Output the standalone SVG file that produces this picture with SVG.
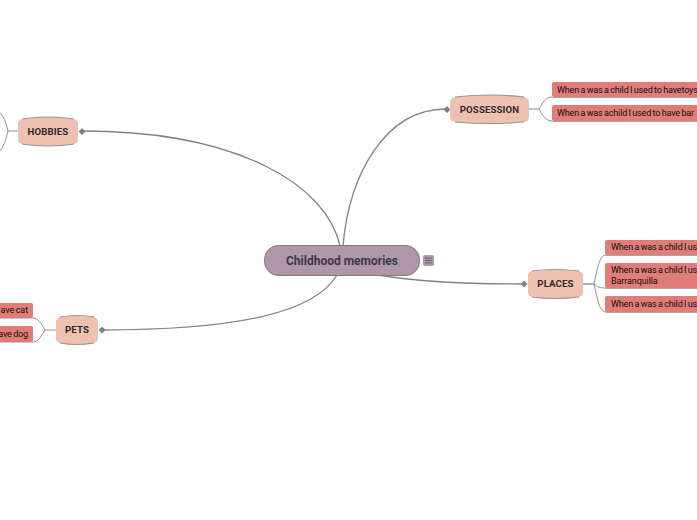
<svg xmlns="http://www.w3.org/2000/svg" width="697" height="520" viewBox="0 0 697 520">
<defs><style>
text{font-family:Roboto,"Liberation Sans",sans-serif;fill:#2e2a2c}
.main{fill:none;stroke:#858182;stroke-width:1.3}
.thin{fill:none;stroke:#918d8e;stroke-width:1}
.dot{fill:#858182}
.topic{fill:#efc1b0}
.edge{fill:none;stroke:#989492;stroke-width:1.2}
.leaf{fill:#e07d78}
.ls{fill:none;stroke:#aaa7a7;stroke-width:1}
.t{font-size:9.6px;font-weight:700;text-anchor:middle;letter-spacing:.15px}
.l{font-size:9px;fill:#111;letter-spacing:-.1px;word-spacing:-.55px}
.r{letter-spacing:-.16px;word-spacing:-.6px}
</style></defs>
<rect width="697" height="520" fill="#fff"/>
<g id="connectors">
<path class="main" d="M340 246C327 186 240 131 82 131"/>
<path class="main" d="M343 246C349 175 385 109 446 109"/>
<path class="main" d="M378 275C420 282 470 284 524 284"/>
<path class="main" d="M337 275C315 312 240 330 102 330"/>
<path class="dot" d="M78.500 131.500l3.500-3.500 3.500 3.500-3.500 3.500z M443.500 109.500l3.500-3.500 3.500 3.500-3.500 3.500z M520.500 284l3.500-3.500 3.500 3.500-3.500 3.500z M98.500 330l3.500-3.500 3.500 3.500-3.500 3.500z"/>
<path class="thin" d="M18 131H8M8 131C6 122 3 115 -1 112M8 131C6 140 3 148 -1 152"/>
<path class="thin" d="M529 109H539M539 109C543 102 546 97 552 97M539 109C543 116 546 121 552 121"/>
<path class="thin" d="M594 284C598 265 600 255 606 255M594 284C597 287 600 288 606 288M594 284C598 302 600 312 606 312" />
<path class="main" d="M583 284H594"/>
<path class="thin" d="M56 330H45M45 330C41 323 38 318 33 318H0M45 330C41 337 38 342 33 342H0"/>
</g>
<g id="root">
<rect x="264.500" y="245.500" width="155" height="30" rx="14" fill="#ae97a8" stroke="#85797f" stroke-width="1"/>
<text x="342" y="265" font-size="12" font-weight="700" text-anchor="middle" style="fill:#3f3a40">Childhood memories</text>
<rect x="423" y="255" width="11" height="11" rx="2" fill="#ae97a8"/>
<path d="M425 258.200h7M425 260.500h7M425 262.800h7" stroke="#555" stroke-width=".8" fill="none"/>
</g>
<g id="hobbies">
<path class="topic" d="M22 119Q48 115 74 119Q78 120 78 124V139Q78 143 74 144Q48 148 22 144Q18 143 18 139V124Q18 120 22 119Z"/>
<path class="edge" d="M22 119Q48 115 74 119M22 144Q48 148 74 144"/>
<text class="t" x="48" y="135">HOBBIES</text>
</g>
<g id="possession">
<path class="topic" d="M455 97Q490 93 524 97Q529 98 529 102V117Q529 121 524 122Q490 125 455 122Q450 121 450 117V102Q450 98 455 97Z"/>
<path class="edge" d="M455 97Q490 93 524 97M455 122Q490 125 524 122"/>
<text class="t" x="489.500" y="113">POSSESSION</text>
</g>
<g id="places">
<path class="topic" d="M532 271Q555 268 579 271Q583 272 583 276V292Q583 296 579 297Q555 300 532 297Q528 296 528 292V276Q528 272 532 271Z"/>
<path class="edge" d="M532 271Q555 268 579 271M532 297Q555 300 579 297"/>
<text class="t" x="555.500" y="287">PLACES</text>
</g>
<g id="pets">
<path class="topic" d="M60 317Q77 314 94 317Q98 318 98 322V338Q98 342 94 343Q77 346 60 343Q56 342 56 338V322Q56 318 60 317Z"/>
<path class="edge" d="M60 317Q77 314 94 317M60 343Q77 346 94 343"/>
<text class="t" x="77" y="333">PETS</text>
</g>
<g id="leaf-toys">
<path class="leaf" d="M697 82H554q-2 0-2 2V95q0 2 2 2H697Z"/><path class="ls" d="M552 97.500H697"/>
<text class="l r" x="557" y="93">When a was a child I used to havetoys</text>
</g>
<g id="leaf-barbie">
<path class="leaf" d="M697 105H554q-2 0-2 2V119q0 2 2 2H697Z"/><path class="ls" d="M552 121.500H697"/>
<text class="l r" x="557" y="116">When a was achild I used to have bar</text>
</g>
<g id="leaf-place1">
<path class="leaf" d="M697 240H607q-2 0-2 2V253q0 2 2 2H697Z"/><path class="ls" d="M606 255.500H697"/>
<text class="l r" x="611" y="250">When a was a child I us</text>
</g>
<g id="leaf-place2">
<path class="leaf" d="M697 263H607q-2 0-2 2V286q0 2 2 2H697Z"/><path class="ls" d="M606 288.500H697"/>
<text class="l r" x="611" y="273">When a was a child I us</text>
<text class="l" x="611" y="284">Barranquilla</text>
</g>
<g id="leaf-place3">
<path class="leaf" d="M697 296H607q-2 0-2 2V310q0 2 2 2H697Z"/><path class="ls" d="M606 312.500H697"/>
<text class="l r" x="611" y="307">When a was a child I us</text>
</g>
<g id="leaf-cat">
<path class="leaf" d="M0 303H31q2 0 2 2V316q0 2-2 2H0Z"/>
<text class="l" x="28" y="313" text-anchor="end">ave cat</text>
</g>
<g id="leaf-dog">
<path class="leaf" d="M0 326H31q2 0 2 2V340q0 2-2 2H0Z"/>
<text class="l r" x="28" y="337" text-anchor="end">ave dog</text>
</g>
</svg>
